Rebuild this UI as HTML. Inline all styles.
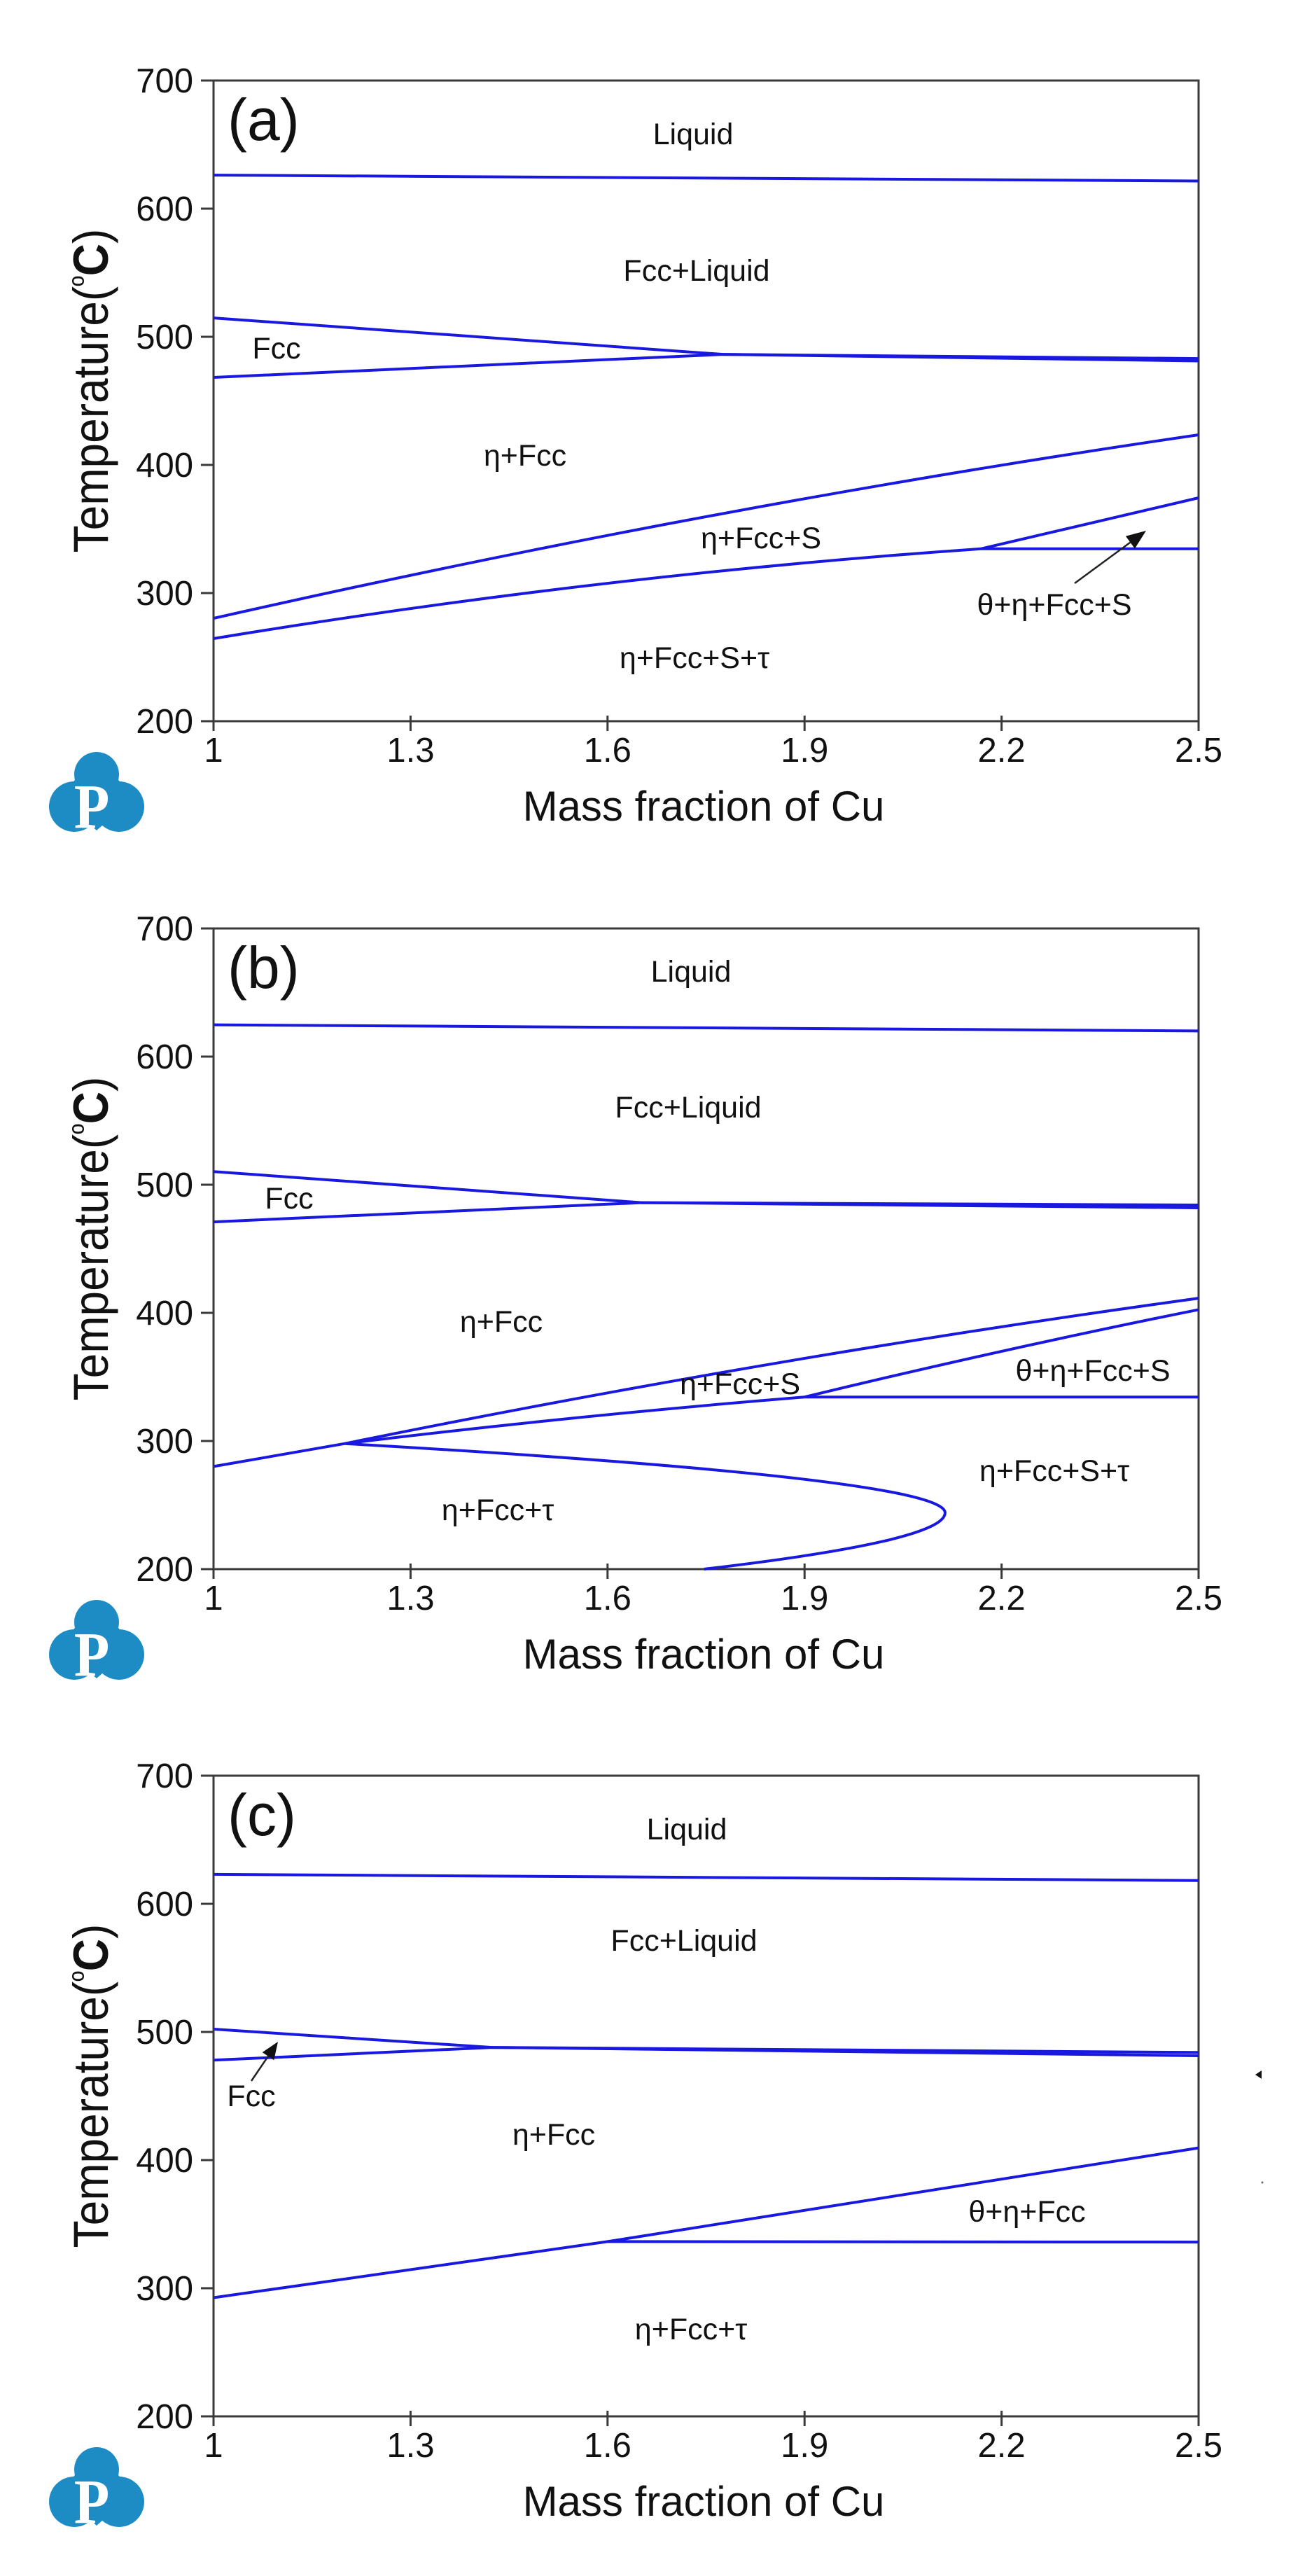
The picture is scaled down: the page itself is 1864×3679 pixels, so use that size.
<!DOCTYPE html>
<html>
<head>
<meta charset="utf-8">
<style>
  html,body{margin:0;padding:0;background:#fff;}
  svg{display:block;}
  text{font-family:"Liberation Sans", Arial, sans-serif; fill:#111;}
</style>
</head>
<body>
<svg xmlns="http://www.w3.org/2000/svg" width="1864" height="3679" viewBox="0 0 1864 3679">
  <rect x="0" y="0" width="1864" height="3679" fill="#fff"/>
  <defs>
    <g id="axes">
      <rect x="305" y="115" width="1407" height="915" fill="none" stroke="#3a3a3a" stroke-width="3"/>
      <g stroke="#3a3a3a" stroke-width="3">
        <line x1="287" y1="115" x2="305" y2="115"/>
        <line x1="287" y1="298" x2="305" y2="298"/>
        <line x1="287" y1="481" x2="305" y2="481"/>
        <line x1="287" y1="664" x2="305" y2="664"/>
        <line x1="287" y1="847" x2="305" y2="847"/>
        <line x1="287" y1="1030" x2="305" y2="1030"/>
        <line x1="305" y1="1030" x2="305" y2="1044"/>
        <line x1="586.4" y1="1022" x2="586.4" y2="1044"/>
        <line x1="867.8" y1="1022" x2="867.8" y2="1044"/>
        <line x1="1149.2" y1="1022" x2="1149.2" y2="1044"/>
        <line x1="1430.6" y1="1022" x2="1430.6" y2="1044"/>
        <line x1="1712" y1="1030" x2="1712" y2="1044"/>
      </g>
      <g font-size="49" text-anchor="end">
        <text x="276" y="132">700</text>
        <text x="276" y="315">600</text>
        <text x="276" y="498">500</text>
        <text x="276" y="681">400</text>
        <text x="276" y="864">300</text>
        <text x="276" y="1047">200</text>
      </g>
      <g font-size="49" text-anchor="middle">
        <text x="305" y="1088">1</text>
        <text x="586.4" y="1088">1.3</text>
        <text x="867.8" y="1088">1.6</text>
        <text x="1149.2" y="1088">1.9</text>
        <text x="1430.6" y="1088">2.2</text>
        <text x="1712" y="1088">2.5</text>
      </g>
      <text x="1005" y="1172" font-size="60" text-anchor="middle">Mass fraction of Cu</text>
      <text transform="translate(154,558) rotate(-90) scale(1,1.1)" font-size="64" text-anchor="middle">Temperature(<tspan font-size="40" dy="-18">º</tspan><tspan dy="18" font-weight="bold">C</tspan>)</text>
      <g fill="#1e8cc4">
        <circle cx="138" cy="1106" r="32"/>
        <circle cx="106" cy="1152" r="36"/>
        <circle cx="170" cy="1152" r="36"/>
        <polygon points="110,1110 166,1110 190,1140 138,1186 86,1140"/>
      </g>
      <text x="131" y="1182" font-size="90" text-anchor="middle" style="fill:#fff;font-family:'Liberation Serif',serif;font-weight:bold;" transform="translate(131,0) scale(0.92,1) translate(-131,0)">P</text>
    </g>
  </defs>

  <!-- Panel (a) -->
  <use href="#axes"/>
  <g fill="none" stroke="#1818e0" stroke-width="4">
    <line x1="305" y1="250.1" x2="1712" y2="258.5"/>
    <polyline points="305,454.1 1032.9,506.1 1712,512.1"/>
    <polyline points="305,539 1032.9,506.1 1712,515.5"/>
    <path d="M305,883.1 Q1008.5,723.8 1712,621"/>
    <path d="M305,912 Q853.25,821.7 1401.5,783.7"/>
    <line x1="1401.5" y1="783.7" x2="1712" y2="783.7"/>
    <line x1="1401.5" y1="783.7" x2="1712" y2="711"/>
  </g>
  <line x1="1535" y1="833" x2="1614.4" y2="774.6" stroke="#222" stroke-width="2.5"/>
  <polygon points="1637,758 1620.9,783.5 1607.9,765.7" fill="#111"/>
  <g font-size="43" text-anchor="middle">
    <text x="990" y="206">Liquid</text>
    <text x="995" y="401">Fcc+Liquid</text>
    <text x="395" y="512">Fcc</text>
    <text x="750" y="665">η+Fcc</text>
    <text x="1087" y="783">η+Fcc+S</text>
    <text x="1506" y="878">θ+η+Fcc+S</text>
    <text x="992" y="954">η+Fcc+S+τ</text>
  </g>
  <text x="325" y="200" font-size="84">(a)</text>

  <!-- Panel (b) -->
  <use href="#axes" transform="translate(0,1211)"/>
  <g fill="none" stroke="#1818e0" stroke-width="4">
    <line x1="305" y1="1463.6" x2="1712" y2="1472.4"/>
    <polyline points="305,1673.2 916.6,1717.6 1712,1721"/>
    <polyline points="305,1745.1 916.6,1717.6 1712,1725"/>
    <path d="M305,2094.4 L492.6,2061.7 Q1102.3,1937.9 1712,1854.1"/>
    <path d="M492.6,2061.7 Q820.9,2021.8 1149.2,1995.2"/>
    <line x1="1149.2" y1="1995.2" x2="1712" y2="1995.2"/>
    <path d="M1149.2,1995.2 Q1430.6,1927 1712,1870.4"/>
    <path d="M492.6,2061.7 Q1349.9,2111.1 1349.9,2160.5 Q1349.9,2200.7 1005.7,2241"/>
  </g>
  <g font-size="43" text-anchor="middle">
    <text x="987" y="1402">Liquid</text>
    <text x="983" y="1596">Fcc+Liquid</text>
    <text x="413" y="1726">Fcc</text>
    <text x="716" y="1902">η+Fcc</text>
    <text x="1057" y="1991">η+Fcc+S</text>
    <text x="1561" y="1972">θ+η+Fcc+S</text>
    <text x="1506" y="2115">η+Fcc+S+τ</text>
    <text x="711" y="2171">η+Fcc+τ</text>
  </g>
  <text x="325" y="1411" font-size="84">(b)</text>

  <!-- Panel (c) -->
  <use href="#axes" transform="translate(0,2421)"/>
  <g fill="none" stroke="#1818e0" stroke-width="4">
    <line x1="305" y1="2676.9" x2="1712" y2="2685.7"/>
    <polyline points="305,2898 702.7,2924.1 1712,2931.3"/>
    <polyline points="305,2942.3 702.7,2924.1 1712,2936"/>
    <polyline points="305,3281.5 867.8,3201.4 1712,3067.6"/>
    <line x1="867.8" y1="3201.4" x2="1712" y2="3202.1"/>
  </g>
  <line x1="359" y1="2972" x2="383" y2="2936.7" stroke="#222" stroke-width="2.5"/>
  <polygon points="397,2916 391.3,2942.3 374.7,2931.1" fill="#111"/>
  <polygon points="1793,2963 1802,2957 1802,2969" fill="#111"/>
  <circle cx="1803" cy="3117" r="1.5" fill="#666"/>
  <g font-size="43" text-anchor="middle">
    <text x="981" y="2627">Liquid</text>
    <text x="977" y="2786">Fcc+Liquid</text>
    <text x="359" y="3008">Fcc</text>
    <text x="791" y="3063">η+Fcc</text>
    <text x="1467" y="3173">θ+η+Fcc</text>
    <text x="987" y="3341">η+Fcc+τ</text>
  </g>
  <text x="325" y="2621" font-size="84">(c)</text>
</svg>
</body>
</html>
